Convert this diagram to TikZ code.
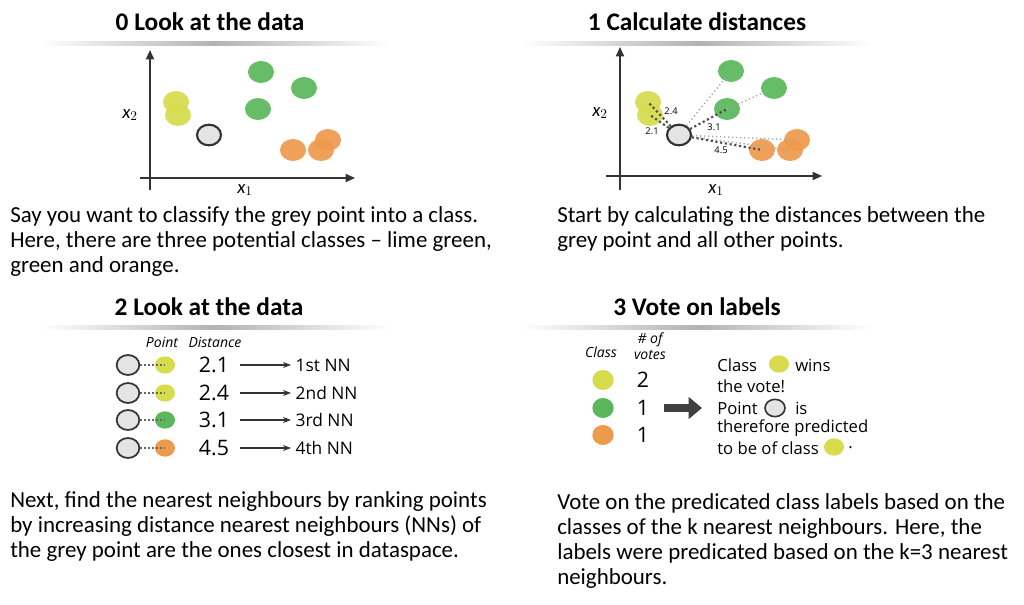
\documentclass[tikz,border=0pt]{standalone}
\usepackage{fontspec}
\setmainfont{Carlito}
\newfontfamily\fig{Open Sans}
\usetikzlibrary{arrows.meta,shapes.geometric}
\definecolor{lime}{HTML}{D6DC4C}
\definecolor{grn}{HTML}{5BB75B}
\definecolor{org}{HTML}{EE9A4C}
\definecolor{gry}{HTML}{E4E4E4}
\begin{document}
\begin{tikzpicture}[x=0.75pt,y=-0.75pt,
  pt/.style={ellipse,minimum width=19.5pt,minimum height=16.5pt,inner sep=0pt,fill=#1,fill opacity=0.92},
  gp/.style={ellipse,minimum width=18pt,minimum height=15.5pt,inner sep=0pt,fill=gry,draw=black!80,line width=1.6pt},
  sp/.style={ellipse,minimum width=15pt,minimum height=13pt,inner sep=0pt,fill=#1},
  ttl/.style={font=\bfseries\fontsize{19}{22}\selectfont},
  body/.style={font=\fontsize{17.2}{18.75}\selectfont,anchor=north west,align=left,inner sep=0pt},
  ax/.style={draw=black!80,line width=1.3pt,-{Triangle[length=7pt,width=6pt]}},
  lab/.style={font=\fig\fontsize{7}{8}\selectfont},
  hdr/.style={font=\fig\itshape\fontsize{10.5}{11}\selectfont},
  near/.style={black!70,line width=1.6pt,dotted},
  far/.style={black!35,line width=1pt,dotted},
  rarr/.style={draw=black!80,line width=1pt,-{Stealth[length=6pt]}}]
\useasboundingbox (0,0) rectangle (1024,605);
\fill[white] (0,0) rectangle (1024,605);
% title bars
\foreach \cx/\cy in {215/42,697/42,215/326,697/326}{
  \shade[left color=white,right color=black!30] (\cx-175,\cy) rectangle (\cx,\cy+4);
  \shade[left color=black!30,right color=white] (\cx,\cy) rectangle (\cx+175,\cy+4);
}
\node[ttl] (t0) at (210,22) {0 Look at the data};
\node[ttl] (t1) at (697,22) {1 Calculate distances};
\node[ttl] (t2) at (209,307) {2 Look at the data};
\node[ttl] (t3) at (697,307) {3 Vote on labels};
% panel 0
\coordinate (a0o) at (150,190); \coordinate (a0y) at (150,50);
\coordinate (a0l) at (140,178); \coordinate (a0x) at (355,178);
\draw[ax] (a0o) -- (a0y); \draw[ax] (a0l) -- (a0x);
\node[font=\fig\fontsize{14}{16}\selectfont] (x2a) at (130,115) {$\mathit{x}_2$};
\node[font=\fig\fontsize{14}{16}\selectfont] (x1a) at (245,190) {$\mathit{x}_1$};
\node[pt=lime] (l1) at (176,102) {}; \node[pt=lime] (l2) at (178,115) {};
\node[pt=grn] (g1) at (261,72) {}; \node[pt=grn] (g2) at (304,88) {}; \node[pt=grn] (g3) at (258,109) {};
\node[pt=org] (o3) at (328,140) {}; \node[pt=org] (o1) at (293,150) {}; \node[pt=org] (o2) at (321,150) {};
\node[gp] (q) at (209,135) {};
\node[body] (b0) at (10,206) {Say you want to classify the grey point into a class.\\Here, there are three potential classes -- lime green,\\green and orange.};
% panel 1
\coordinate (a1o) at (620,190); \coordinate (a1y) at (620,47);
\coordinate (a1l) at (606,176); \coordinate (a1x) at (822,176);
\draw[ax] (a1o) -- (a1y); \draw[ax] (a1l) -- (a1x);
\node[font=\fig\fontsize{14}{16}\selectfont] (x2b) at (600,113) {$\mathit{x}_2$};
\node[font=\fig\fontsize{14}{16}\selectfont] (x1b) at (716,190) {$\mathit{x}_1$};
\node[pt=lime] (L1) at (648,102) {}; \node[pt=lime] (L2) at (650,115) {};
\node[pt=grn] (G1) at (731,71) {}; \node[pt=grn] (G2) at (774,88) {}; \node[pt=grn] (G3) at (727,109) {};
\node[pt=org] (O3) at (797,140) {}; \node[pt=org] (O1) at (762,150) {}; \node[pt=org] (O2) at (790,150) {};
\node[gp] (Q) at (679,135) {};
\draw[far] (Q) -- (G1.center); \draw[far] (G3.center) -- (G2.center);
\draw[far] (Q) -- (O3.center); \draw[far] (Q) -- (O2.center);
\draw[near] (Q) -- (L1.center); \draw[near] (Q) -- (L2.center);
\draw[near] (Q) -- (G3.center); \draw[near] (Q) -- (O1.center);
\node[lab] (d24) at (671,111) {2.4}; \node[lab] (d21) at (652,131) {2.1};
\node[lab] (d31) at (714,127) {3.1}; \node[lab] (d45) at (721,150) {4.5};
\node[body] (b1) at (557,206) {Start by calculating the distances between the\\grey point and all other points.};
% panel 2
\node[hdr] (hp) at (162,342) {Point};
\node[hdr] (hd) at (215,342) {Distance};
\foreach \i/\y/\c/\d/\n in {1/365/lime/2.1/1st NN,2/393/lime/2.4/2nd NN,3/420/grn/3.1/3rd NN,4/448/org/4.5/4th NN}{
  \node[gp,minimum width=17pt,minimum height=15pt,line width=1.3pt] (r\i a) at (128,\y) {};
  \node[sp=\c] (r\i b) at (165,\y) {};
  \draw[black!60,line width=1pt,dotted] (r\i a) -- (r\i b.center);
  \node[font=\fig\fontsize{16}{18}\selectfont] (r\i d) at (214,\y) {\d};
  \node[font=\fig\fontsize{13}{15}\selectfont,anchor=west] (r\i n) at (291,\y) {\n};
  \draw[rarr] (r\i d.east) ++(6,0) coordinate (r\i s) -- (r\i n.west);
}
\node[body] (b2) at (10,491) {Next, find the nearest neighbours by ranking points\\by increasing distance nearest neighbours (NNs) of\\the grey point are the ones closest in dataspace.};
% panel 3
\node[hdr] (hc) at (601,352) {Class};
\node[hdr] (hv1) at (650,340) {\# of};
\node[hdr] (hv2) at (650,355) {votes};
\foreach \i/\y/\c/\v in {1/380/lime/2,2/408/grn/1,3/435/org/1}{
  \node[sp=\c,minimum width=16pt,minimum height=15pt] (v\i c) at (603,\y) {};
  \node[font=\fig\fontsize{16}{18}\selectfont] (v\i n) at (643,\y) {\v};
}
\coordinate (fa) at (664,408); \coordinate (fb) at (702,408);
\draw[black!75,line width=6pt,-{Triangle[length=10pt,width=16pt]}] (fa) -- (fb);
\begin{scope}[wt/.style={font=\fig\fontsize{12.5}{14}\selectfont,anchor=west,inner sep=0pt}]
\node[wt] (w1) at (717,365) {Class};
\node[sp=lime] (wc) at (779,364) {};
\node[wt] (w2) at (795,365) {wins};
\node[wt] (w3) at (717,386) {the vote!};
\node[wt] (w4) at (717,408) {Point};
\node[gp,minimum width=15pt,minimum height=13pt,line width=1.2pt] (wg) at (775,408) {};
\node[wt] (w5) at (795,408) {is};
\node[wt] (w6) at (717,428) {therefore predicted};
\node[wt] (w7) at (717,448) {to be of class};
\node[sp=lime] (wd) at (834,447) {};
\node[wt] (w8) at (848,448) {.};
\end{scope}
\node[body] (b3) at (557,493) {Vote on the predicated class labels based on the\\classes of the k nearest neighbours. Here, the\\labels were predicated based on the k=3 nearest\\neighbours.};
\end{tikzpicture}
\end{document}
